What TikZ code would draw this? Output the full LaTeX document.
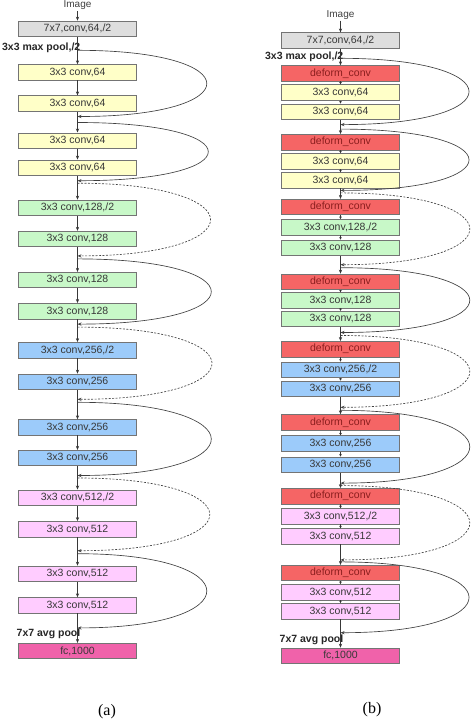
\documentclass[tikz,border=0pt]{standalone}
\usepackage{fontspec}
\setmainfont{Liberation Sans}
\newfontfamily\capfont{Liberation Serif}
\usetikzlibrary{arrows.meta,positioning}
\definecolor{edgegray}{HTML}{747474}
\definecolor{stemgray}{HTML}{DEDEDE}
\definecolor{yel}{HTML}{FFFFC8}
\definecolor{grn}{HTML}{C8F8C8}
\definecolor{blu}{HTML}{9CCBFA}
\definecolor{pnk}{HTML}{FFCCFF}
\definecolor{fcpink}{HTML}{F062AA}
\definecolor{dfred}{HTML}{F56565}
\definecolor{dftext}{HTML}{8B1E1E}
\tikzstyle{blk}=[rectangle,draw=edgegray,line width=0.6pt,minimum width=118pt,minimum height=15.5pt,inner sep=0pt,font=\fontsize{10.5}{12}\selectfont,text=black!78]
\tikzstyle{stem}=[blk,fill=stemgray]
\tikzstyle{l64}=[blk,fill=yel]
\tikzstyle{l128}=[blk,fill=grn]
\tikzstyle{l256}=[blk,fill=blu]
\tikzstyle{l512}=[blk,fill=pnk]
\tikzstyle{fcl}=[blk,fill=fcpink]
\tikzstyle{dfm}=[blk,fill=dfred,text=dftext]
\tikzstyle{lbl}=[inner sep=1pt,font=\fontsize{10}{12}\selectfont,text=black!75]
\tikzstyle{pool}=[inner sep=0pt,font=\fontsize{10.5}{12}\selectfont\bfseries,text=black!85]
\tikzstyle{capt}=[inner sep=0pt,font=\capfont\fontsize{16}{19}\selectfont]
\tikzstyle{arr}=[-{Stealth[length=4pt,width=3.2pt]},line width=0.55pt,draw=black!78]
\tikzstyle{tarr}=[-{Stealth[length=2.5pt,width=2.6pt]},line width=0.55pt,draw=black!78]
\tikzstyle{skip}=[-{Stealth[length=4pt,width=3.2pt]},line width=0.65pt,draw=black!75]
\tikzstyle{skipd}=[skip,dash pattern=on 2pt off 1.5pt]

\begin{document}
\begin{tikzpicture}[x=1pt,y=-1pt,node distance=15pt]
\useasboundingbox (0,0) rectangle (474,721);

% (a) plain residual network
\node[lbl] (imga) at (77.5,5.5) {Image};
\node[stem] (a0) at (77.5,28.75) {7x7,conv,64,/2};
\node[l64, below=27.5pt of a0] (a1) {3x3 conv,64};
\node[l64, below=of a1] (a2) {3x3 conv,64};
\node[l64, below=21pt of a2] (a3) {3x3 conv,64};
\node[l64, below=11pt of a3] (a4) {3x3 conv,64};
\node[l128, below=24pt of a4] (a5) {3x3 conv,128,/2};
\node[l128, below=of a5] (a6) {3x3 conv,128};
\node[l128, below=25pt of a6] (a7) {3x3 conv,128};
\node[l128, below=of a7] (a8) {3x3 conv,128};
\node[l256, below=23pt of a8] (a9) {3x3 conv,256,/2};
\node[l256, below=15.5pt of a9] (a10) {3x3 conv,256};
\node[l256, below=29.5pt of a10] (a11) {3x3 conv,256};
\node[l256, below=14.5pt of a11] (a12) {3x3 conv,256};
\node[l512, below=23.5pt of a12] (a13) {3x3 conv,512,/2};
\node[l512, below=15.5pt of a13] (a14) {3x3 conv,512};
\node[l512, below=28.5pt of a14] (a15) {3x3 conv,512};
\node[l512, below=15.5pt of a15] (a16) {3x3 conv,512};
\node[fcl, below=29.5pt of a16] (afc) {fc,1000};
\node[pool, below left=5.5pt and -3pt of a0.south] (mpa) {3x3 max pool,/2};
\node[pool, below left=15.5pt and -3pt of a16.south] (apa) {7x7 avg pool};
\node[capt] (capa) at (107,712) {(a)};

% shortcut start / merge points
\coordinate[below=13.5pt of a0] (sa1);
\coordinate[below=5pt of a2] (ma1);
\coordinate[below=11pt of a2] (sa2);
\coordinate[below=5pt of a4] (ma2);
\coordinate[below=7.5pt of a4] (sa3);
\coordinate[below=9pt of a6] (ma3);
\coordinate[below=12pt of a6] (sa4);
\coordinate[below=5pt of a8] (ma4);
\coordinate[below=8pt of a8] (sa5);
\coordinate[below=9.5pt of a10] (ma5);
\coordinate[below=12.5pt of a10] (sa6);
\coordinate[below=9.5pt of a12] (ma6);
\coordinate[below=12pt of a12] (sa7);
\coordinate[below=13.5pt of a14] (ma7);
\coordinate[below=16.5pt of a14] (sa8);
\coordinate[below=14.5pt of a16] (ma8);

\draw[arr] (imga) edge (a0) (a0) edge (a1) (a1) edge (a2) (a2) edge (a3) (a3) edge (a4);
\draw[arr] (a4) edge (a5) (a5) edge (a6) (a6) edge (a7) (a7) edge (a8);
\draw[arr] (a8) edge (a9) (a9) edge (a10) (a10) edge (a11) (a11) edge (a12);
\draw[arr] (a12) edge (a13) (a13) edge (a14) (a14) edge (a15) (a15) edge (a16) (a16) edge (afc);

\draw[skip] (sa1) .. controls +(172,0) and +(172,0) .. (ma1);
\draw[skip] (sa2) .. controls +(174,0) and +(174,0) .. (ma2);
\draw[skipd] (sa3) .. controls +(177,0) and +(177,0) .. (ma3);
\draw[skip] (sa4) .. controls +(178,0) and +(178,0) .. (ma4);
\draw[skipd] (sa5) .. controls +(179,0) and +(179,0) .. (ma5);
\draw[skip] (sa6) .. controls +(178,0) and +(178,0) .. (ma6);
\draw[skipd] (sa7) .. controls +(176,0) and +(176,0) .. (ma7);
\draw[skip] (sa8) .. controls +(172,0) and +(172,0) .. (ma8);

% (b) with deformable convolutions
\node[lbl] (imgb) at (340.5,15) {Image};
\node[stem] (b0) at (340.5,40.5) {7x7,conv,64,/2};
\node[dfm, below=16.75pt of b0] (b1) {deform\_conv};
\node[l64, below=3pt of b1] (b2) {3x3 conv,64};
\node[l64, below=3pt of b2] (b3) {3x3 conv,64};
\node[dfm, below=14.5pt of b3] (b4) {deform\_conv};
\node[l64, below=3pt of b4] (b5) {3x3 conv,64};
\node[l64, below=3pt of b5] (b6) {3x3 conv,64};
\node[dfm, below=10.5pt of b6] (b7) {deform\_conv};
\node[l128, below=4pt of b7] (b8) {3x3 conv,128,/2};
\node[l128, below=4.5pt of b8] (b9) {3x3 conv,128};
\node[dfm, below=18pt of b9] (b10) {deform\_conv};
\node[l128, below=2.5pt of b10] (b11) {3x3 conv,128};
\node[l128, below=2.5pt of b11] (b12) {3x3 conv,128};
\node[dfm, below=14pt of b12] (b13) {deform\_conv};
\node[l256, below=4.5pt of b13] (b14) {3x3 conv,256,/2};
\node[l256, below=3pt of b14] (b15) {3x3 conv,256};
\node[dfm, below=17.5pt of b15] (b16) {deform\_conv};
\node[l256, below=5pt of b16] (b17) {3x3 conv,256};
\node[l256, below=5pt of b17] (b18) {3x3 conv,256};
\node[dfm, below=15.5pt of b18] (b19) {deform\_conv};
\node[l512, below=4pt of b19] (b20) {3x3 conv,512,/2};
\node[l512, below=4pt of b20] (b21) {3x3 conv,512};
\node[dfm, below=20.5pt of b21] (b22) {deform\_conv};
\node[l512, below=3pt of b22] (b23) {3x3 conv,512};
\node[l512, below=3pt of b23] (b24) {3x3 conv,512};
\node[fcl, below=28.5pt of b24] (bfc) {fc,1000};
\node[pool, below left=3.5pt and -3pt of b0.south] (mpb) {3x3 max pool,/2};
\node[pool, below left=15.5pt and -3pt of b24.south] (apb) {7x7 avg pool};
\node[capt] (capb) at (372,710) {(b)};

\coordinate[below=9.75pt of b0] (sb1);
\coordinate[below=5pt of b3] (mb1);
\coordinate[below=9.5pt of b3] (sb2);
\coordinate[below=2pt of b6] (mb2);
\coordinate[below=4.5pt of b6] (sb3);
\coordinate[below=9pt of b9] (mb3);
\coordinate[below=12pt of b9] (sb4);
\coordinate[below=5.5pt of b12] (mb4);
\coordinate[below=8.5pt of b12] (sb5);
\coordinate[below=10.5pt of b15] (mb5);
\coordinate[below=13.5pt of b15] (sb6);
\coordinate[below=10.5pt of b18] (mb6);
\coordinate[below=13pt of b18] (sb7);
\coordinate[below=15.5pt of b21] (mb7);
\coordinate[below=17.5pt of b21] (sb8);
\coordinate[below=13.5pt of b24] (mb8);

\draw[arr] (imgb) edge (b0) (b0) edge (b1) (b3) edge (b4) (b6) edge (b7) (b9) edge (b10);
\draw[arr] (b12) edge (b13) (b15) edge (b16) (b18) edge (b19) (b21) edge (b22) (b24) edge (bfc);
\draw[tarr] (b1) edge (b2) (b2) edge (b3) (b4) edge (b5) (b5) edge (b6) (b7) edge (b8) (b8) edge (b9);
\draw[tarr] (b10) edge (b11) (b11) edge (b12) (b13) edge (b14) (b14) edge (b15) (b16) edge (b17) (b17) edge (b18);
\draw[tarr] (b19) edge (b20) (b20) edge (b21) (b22) edge (b23) (b23) edge (b24);

\draw[skip] (sb1) .. controls +(171,0) and +(171,0) .. (mb1);
\draw[skip] (sb2) .. controls +(171,0) and +(171,0) .. (mb2);
\draw[skipd] (sb3) .. controls +(172,0) and +(172,0) .. (mb3);
\draw[skip] (sb4) .. controls +(172,0) and +(172,0) .. (mb4);
\draw[skipd] (sb5) .. controls +(172,0) and +(172,0) .. (mb5);
\draw[skip] (sb6) .. controls +(172,0) and +(172,0) .. (mb6);
\draw[skipd] (sb7) .. controls +(172,0) and +(172,0) .. (mb7);
\draw[skip] (sb8) .. controls +(171,0) and +(171,0) .. (mb8);
\end{tikzpicture}
\end{document}
